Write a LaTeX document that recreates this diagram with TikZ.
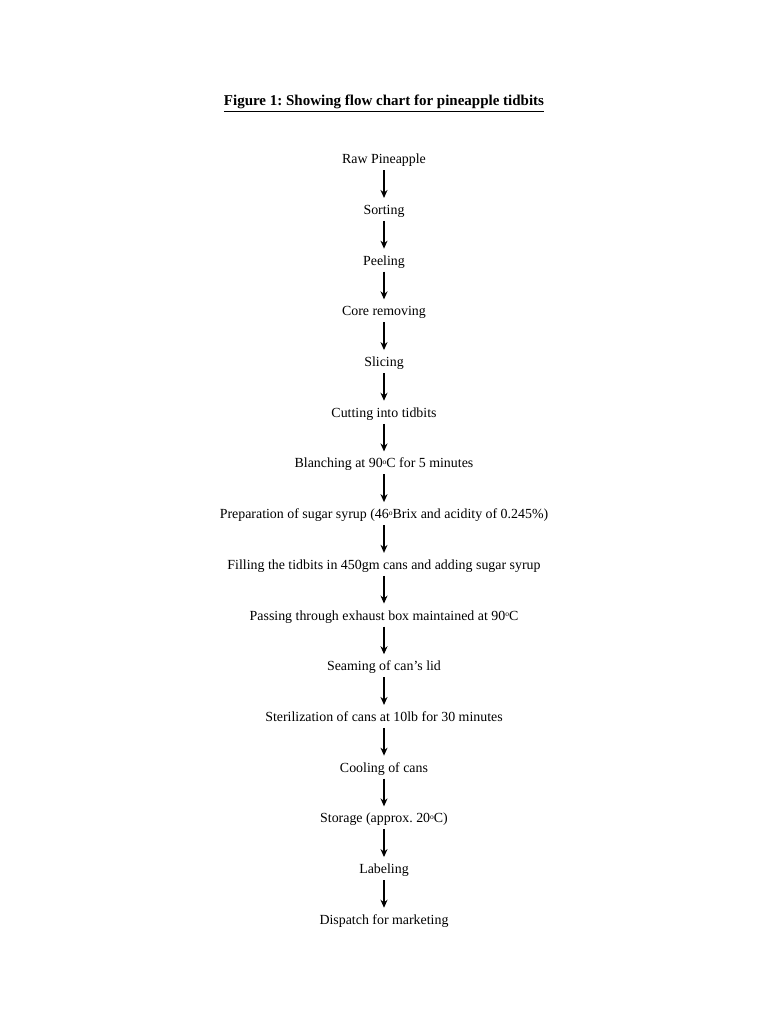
\documentclass[tikz,border=0pt]{standalone}
\usepackage{fontspec}
\setmainfont{Liberation Serif}
\usepackage{tikz}
\usetikzlibrary{arrows.meta, positioning}

\newcommand{\dego}{\raisebox{0.55ex}{\fontsize{7.5}{8}\selectfont o}}

\tikzset{
  stage/.style={font=\fontsize{13.9}{16}\selectfont, text height=9.5pt, text depth=3pt, inner sep=3.5pt, outer sep=0pt},
  flow/.style={-{Stealth[length=8pt,width=7pt]}, line width=1.2pt, shorten <=0pt, shorten >=3.5pt}
}

\begin{document}
\frenchspacing
\begin{tikzpicture}[node distance=31.2pt]
  \useasboundingbox[fill=white] (0pt,0pt) rectangle (768pt,-1024pt);

  \node[font=\fontsize{15}{17}\selectfont\bfseries, anchor=base] (title) at (384pt,-106pt) {\underline{Figure 1: Showing flow chart for pineapple tidbits}};

  \node[stage] (n1) at (384pt,-160.5pt) {Raw Pineapple};
  \node[stage, below=of n1] (n2) {Sorting};
  \node[stage, below=of n2] (n3) {Peeling};
  \node[stage, below=of n3] (n4) {Core removing};
  \node[stage, below=of n4] (n5) {Slicing};
  \node[stage, below=of n5] (n6) {Cutting into tidbits};
  \node[stage, below=of n6] (n7) {Blanching at 90\dego C for 5 minutes};
  \node[stage, below=of n7] (n8) {Preparation of sugar syrup (46\dego Brix and acidity of 0.245\%)};
  \node[stage, below=of n8] (n9) {Filling the tidbits in 450gm cans and adding sugar syrup};
  \node[stage, below=of n9] (n10) {Passing through exhaust box maintained at 90\dego C};
  \node[stage, below=of n10] (n11) {Seaming of can’s lid};
  \node[stage, below=of n11] (n12) {Sterilization of cans at 10lb for 30 minutes};
  \node[stage, below=of n12] (n13) {Cooling of cans};
  \node[stage, below=of n13] (n14) {Storage (approx. 20\dego C)};
  \node[stage, below=of n14] (n15) {Labeling};
  \node[stage, below=of n15] (n16) {Dispatch for marketing};

  % arrows between the stages
  \foreach \i [evaluate=\i as \j using int(\i+1)] in {1,...,15}
    \draw[flow] (n\i) -- (n\j);
\end{tikzpicture}
\end{document}
